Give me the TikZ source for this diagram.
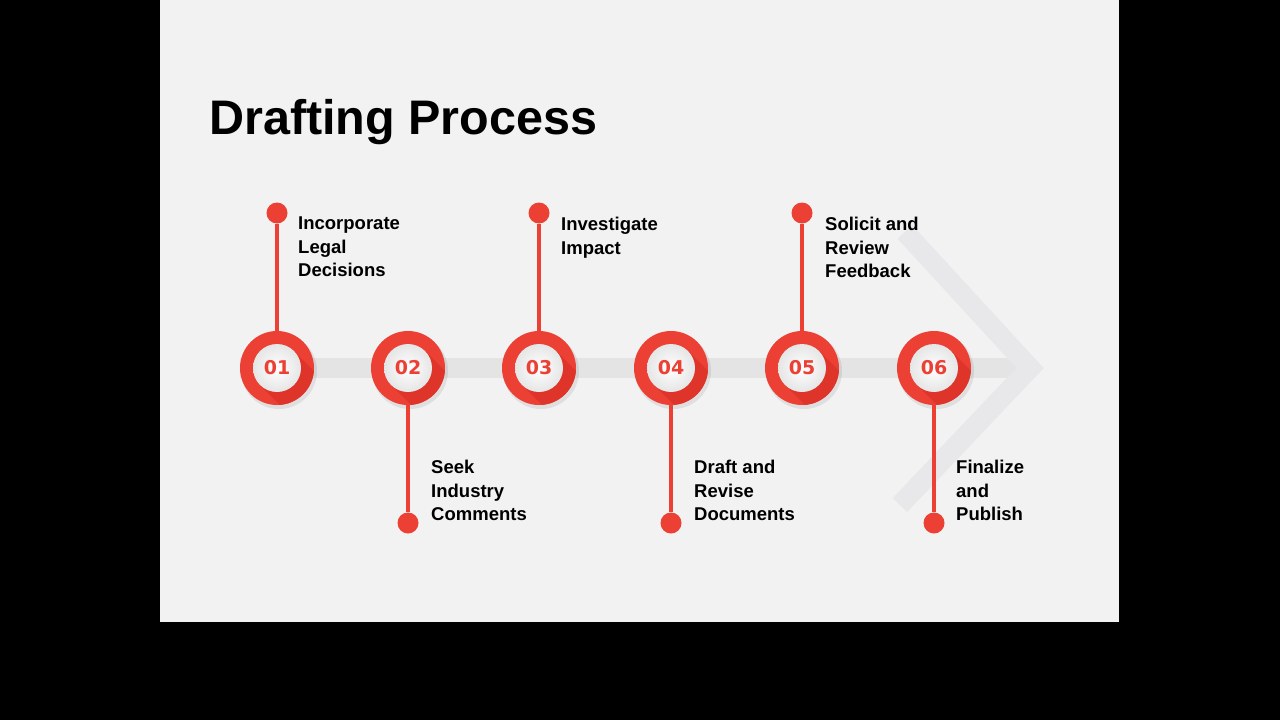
\documentclass[tikz,border=0pt]{standalone}
\usepackage{fontspec}
\setmainfont{Liberation Sans}
\newfontfamily\numfont{DejaVu Sans}
\definecolor{accent}{RGB}{236,64,52}
\definecolor{accentdark}{RGB}{222,52,42}
\definecolor{slidebg}{RGB}{242,242,242}
\definecolor{trackgray}{RGB}{228,228,228}
\definecolor{chevgray}{RGB}{232,232,234}
\begin{document}
\begin{tikzpicture}[x=1pt,y=-1pt,
  outerc/.style={circle, fill=accent, minimum size=74pt, inner sep=0pt},
  innerc/.style={circle, inner color=white, outer color=black!10, minimum size=48pt, inner sep=0pt,
     font=\numfont\bfseries\fontsize{19}{21}\selectfont, text=accent},
  dotn/.style={circle, fill=accent, minimum size=21pt, inner sep=0pt},
  stem/.style={draw=accent, line width=4pt},
  lbl/.style={anchor=north west, align=left, inner sep=0pt,
     font=\bfseries\fontsize{18.5}{23.5}\selectfont, text=black},
  shadowc/.style={circle, fill=black, opacity=0.08, minimum size=76pt, inner sep=0pt}
]
\fill[black] (0,0) rectangle (1280,720);
\fill[slidebg] (160,0) rectangle (1119,622);
\useasboundingbox (0,0) rectangle (1280,720);
% track and chevron
\draw[trackgray, line width=20pt] (240,368) -- (1030,368);
\draw[chevgray, line width=20pt, line join=miter] (905,232) -- (1030,368) -- (900,505);
% title
\node[anchor=base west, inner sep=0pt, font=\bfseries\fontsize{48.5}{56}\selectfont] (title) at (209,134) {Drafting Process};
% circles
\foreach \i/\x in {1/277,2/408,3/539,4/671,5/802,6/934}{
  \node[shadowc] (s\i) at (\x+2,371) {};
  \node[outerc] (c\i) at (\x,368) {};
  \begin{scope}
    \clip (c\i) circle[radius=37pt];
    \fill[accentdark] (\x-17,368+17) -- (\x+17,368-17) -- (\x+60,368+26) -- (\x+26,368+60) -- cycle;
  \end{scope}
  \node[innerc] (n\i) at (\x,368) {0\i};
}
% stems and dots
\foreach \i/\x in {1/277,3/539,5/802}{
  \node[dotn] (d\i) at (\x,213) {};
  \draw[stem] (c\i) -- (d\i);
}
\foreach \i/\x in {2/408,4/671,6/934}{
  \node[dotn] (d\i) at (\x,523) {};
  \draw[stem] (c\i) -- (d\i);
}
% labels
\node[lbl] (t1) at (298,217) {Incorporate\\Legal\\Decisions};
\node[lbl] (t3) at (561,217) {Investigate\\Impact};
\node[lbl] (t5) at (825,217) {Solicit and\\Review\\Feedback};
\node[lbl] (t2) at (431,460) {Seek\\Industry\\Comments};
\node[lbl] (t4) at (694,460) {Draft and\\Revise\\Documents};
\node[lbl] (t6) at (956,460) {Finalize\\and\\Publish};
\end{tikzpicture}
\end{document}
